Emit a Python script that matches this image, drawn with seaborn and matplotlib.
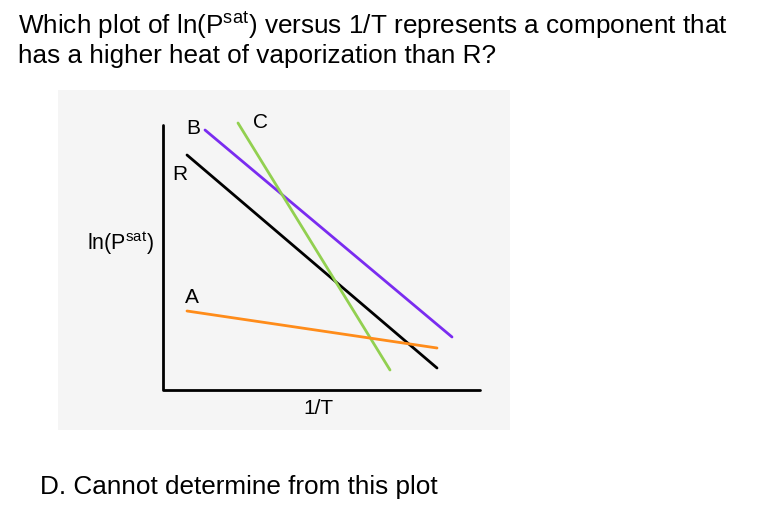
import matplotlib
matplotlib.use("Agg")
import matplotlib.pyplot as plt
import seaborn as sns
import pandas as pd

sns.set_theme(style="white")
plt.rcParams['font.family'] = ['Liberation Sans', 'DejaVu Sans']
plt.rcParams['mathtext.fontset'] = 'custom'
plt.rcParams['mathtext.rm'] = 'Liberation Sans'
plt.rcParams['text.color'] = 'black'

# line endpoints (panel pixel-like units, y grows downward)
names = ["B", "R", "C", "A"]
x0 = [205, 187, 238, 187]
y0 = [130, 155, 123, 311]
x1 = [452, 437, 390, 437]
y1 = [337, 368, 370, 348]
colors = ["#7a2cf0", "#000000", "#92d050", "#ff8c1a"]
label_xy = [(193, 128), (180, 174), (261, 122), (192, 297)]

rows = []
for n, a, b, c, d in zip(names, x0, y0, x1, y1):
    rows += [dict(name=n, x=a, y=b), dict(name=n, x=c, y=d)]
df = pd.DataFrame(rows)

W, H = 768, 516
fig = plt.figure(figsize=(W/100, H/100), dpi=100)
px0, px1, py0, py1 = 58, 510, 90, 430
ax = fig.add_axes([px0/W, 1-py1/H, (px1-px0)/W, (py1-py0)/H])
ax.set_facecolor("#f5f5f5")
sns.lineplot(data=df, x="x", y="y", hue="name", palette=dict(zip(names, colors)),
             linewidth=2, legend=False, ax=ax, estimator=None, sort=False)
ax.plot([163, 163, 480], [125, 390, 390], color="black", lw=2)
for n, (lx, ly) in zip(names, label_xy):
    ax.text(lx, ly, n, fontsize=15, ha="center", va="center")
ax.text(318, 409, "1/T", fontsize=15, ha="center", va="center")
ax.text(120, 243, "ln(P$^{\\mathrm{sat}}$)", fontsize=15.5, ha="center", va="center")
ax.set_xlim(px0, px1)
ax.set_ylim(py1, py0)
ax.set_xticks([]); ax.set_yticks([])
ax.set_xlabel(""); ax.set_ylabel("")
for s in ax.spines.values():
    s.set_visible(False)

fig.text(18/W, 1-25/H, "Which plot of ln(P$^{\\mathrm{sat}}$) versus 1/T represents a component that",
         fontsize=18.8, va="center")
fig.text(18/W, 1-56/H, "has a higher heat of vaporization than R?", fontsize=18.8, va="center")
fig.text(40/W, 1-487/H, "D. Cannot determine from this plot", fontsize=18.8, va="center")
fig.savefig("out.png", dpi=100, facecolor="white")
